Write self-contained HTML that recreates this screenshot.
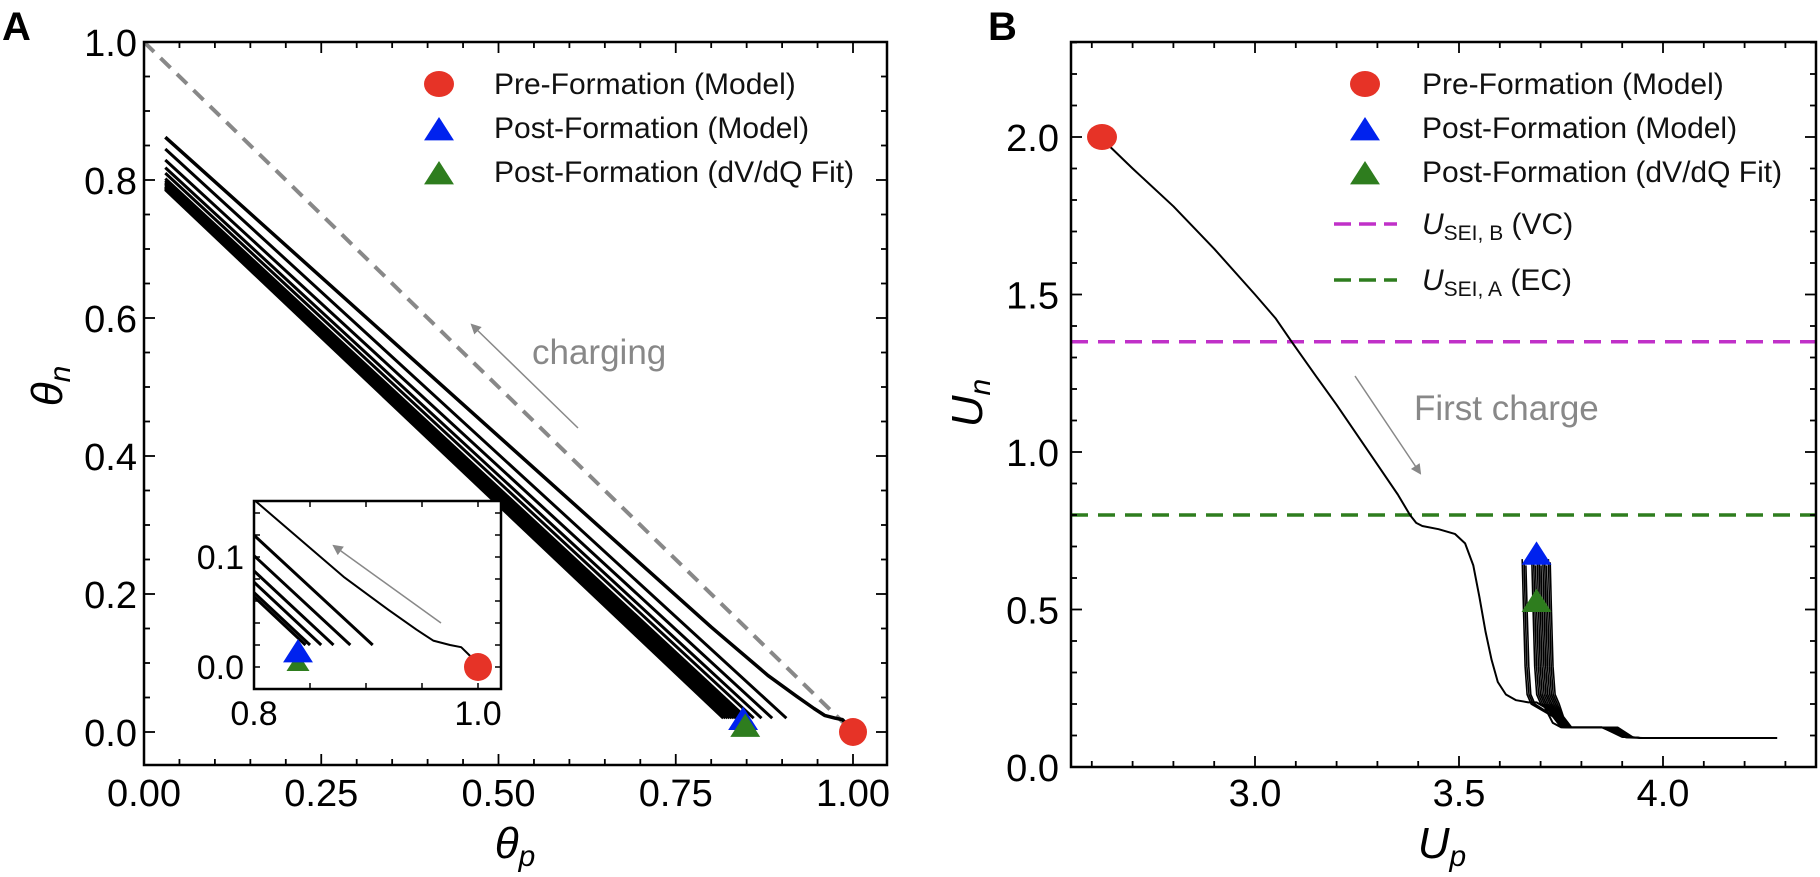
<!DOCTYPE html>
<html><head><meta charset="utf-8"><style>
html,body{margin:0;padding:0;background:#fff;}
svg{display:block;font-family:"Liberation Sans",sans-serif;}
</style></head><body>
<svg id="s" width="1820" height="877" xmlns="http://www.w3.org/2000/svg"></svg>
<script>
const S=document.getElementById('s');let h='';
const AX=x=>144+x*709, AY=y=>732-y*690;
const IX=x=>254+(x-0.8)*1120, IY=y=>667-y*1100;
const BX=x=>1255+(x-3)*408, BY=y=>767-y*315;
function pl(pts,fx,fy,st){return '<polyline fill="none" stroke-linejoin="round" '+st+' points="'+pts.map(p=>fx(p[0]).toFixed(1)+','+fy(p[1]).toFixed(1)).join(' ')+'"/>';}
function tri(x,y,s,c){return `<polygon points="${x},${y-s} ${x-s*1.15},${y+s*0.8} ${x+s*1.15},${y+s*0.8}" fill="${c}"/>`;}
h+='<defs><clipPath id="ca"><rect x="144" y="42" width="743" height="723"/></clipPath><clipPath id="ci"><rect x="254" y="501" width="247" height="188"/></clipPath><clipPath id="cb"><rect x="1071" y="42" width="745" height="725"/></clipPath>';
h+='<marker id="ar" viewBox="0 0 10 10" refX="8" refY="5" markerWidth="7" markerHeight="7" orient="auto-start-reverse"><path d="M0,0 L10,5 L0,10 z" fill="#888"/></marker></defs>';
// ---- Panel A ----
h+='<g clip-path="url(#ca)">';
h+=`<line x1="${AX(0)}" y1="${AY(1)}" x2="${AX(1)}" y2="${AY(0)}" stroke="#888" stroke-width="4" stroke-dasharray="14,9"/>`;
const ends=[0.906,0.886,0.871,0.860,0.850,0.846,0.842,0.838,0.835,0.832,0.829,0.826,0.823,0.82,0.817];
const starts=[0.845,0.829,0.818,0.810,0.802,0.799,0.797,0.795,0.793,0.791,0.790,0.789,0.788,0.787,0.786];
ends.forEach((e,i)=>{h+=pl([[0.03,starts[i]],[e,0.02]],AX,AY,'stroke="#000" stroke-width="3"');});
const c1=[[0.03,0.862],[0.8,0.152],[0.88,0.082],[0.92,0.052],[0.945,0.034],[0.96,0.024],[0.975,0.02],[0.985,0.018],[0.993,0.01],[1.0,0.0]];
h+=pl(c1,AX,AY,'stroke="#000" stroke-width="3.5"');
h+='</g>';
h+=`<circle cx="${AX(1)}" cy="${AY(0)}" r="14" fill="#e63327"/>`;
h+=tri(AX(0.845),AY(0.018),13,'#0022ee');
h+=tri(AX(0.848),AY(0.008),13,'#2e7d1e');
h+=`<line x1="578" y1="428" x2="472" y2="325" stroke="#888" stroke-width="1.5" marker-end="url(#ar)"/>`;
h+='<text x="532" y="364" font-size="35" fill="#888">charging</text>';
h+='<ellipse cx="439" cy="84" rx="15" ry="13" fill="#e63327"/>';
h+=tri(439,130,13,'#0022ee');h+=tri(439,174,13,'#2e7d1e');
h+='<g font-size="30" fill="#111"><text x="494" y="94">Pre-Formation (Model)</text><text x="494" y="138">Post-Formation (Model)</text><text x="494" y="182">Post-Formation (dV/dQ Fit)</text></g>';
// inset
h+='<rect x="254" y="501" width="247" height="188" fill="#fff"/>';
h+='<g clip-path="url(#ci)">';
ends.slice(0,6).forEach((e,i)=>{h+=pl([[0.03,starts[i]],[e,0.02]],IX,IY,'stroke="#000" stroke-width="3"');});
h+=pl(c1,IX,IY,'stroke="#000" stroke-width="2"');
h+='</g>';
h+=`<line x1="441" y1="623" x2="334" y2="546" stroke="#888" stroke-width="1.5" marker-end="url(#ar)"/>`;
h+=`<circle cx="${IX(1)}" cy="${IY(0)}" r="14" fill="#e63327"/>`;
h+=tri(298,663,10,'#2e7d1e');
h+=tri(298,652,13,'#0022ee');
h+='<rect x="254" y="501" width="247" height="188" fill="none" stroke="#000" stroke-width="2.5"/>';
for(let i=0;i<=4;i++){const px=IX(0.8+i*0.05);h+=`<line x1="${px}" y1="689" x2="${px}" y2="683" stroke="#000" stroke-width="1.5"/><line x1="${px}" y1="501" x2="${px}" y2="507" stroke="#000" stroke-width="1.5"/>`;}
for(let i=-1;i<=7;i++){const py=IY(i*0.02);if(py<503||py>687)continue;h+=`<line x1="254" y1="${py}" x2="260" y2="${py}" stroke="#000" stroke-width="1.5"/><line x1="501" y1="${py}" x2="495" y2="${py}" stroke="#000" stroke-width="1.5"/>`;}
h+='<g font-size="34" fill="#000"><text x="244" y="569" text-anchor="end">0.1</text><text x="244" y="679" text-anchor="end">0.0</text><text x="254" y="725" text-anchor="middle">0.8</text><text x="478" y="725" text-anchor="middle">1.0</text></g>';
// frame A
h+='<rect x="144" y="42" width="743" height="723" fill="none" stroke="#000" stroke-width="2.5"/>';
for(let i=0;i<=20;i++){const x=i*0.05,px=AX(x),L=i%5==0?11:6;h+=`<line x1="${px}" y1="765" x2="${px}" y2="${765-L}" stroke="#000" stroke-width="1.8"/><line x1="${px}" y1="42" x2="${px}" y2="${42+L}" stroke="#000" stroke-width="1.8"/>`;}
for(let i=-1;i<=20;i++){const y=i*0.05,py=AY(y),L=i%4==0?11:6;if(py<42||py>765)continue;h+=`<line x1="144" y1="${py}" x2="${144+L}" y2="${py}" stroke="#000" stroke-width="1.8"/><line x1="887" y1="${py}" x2="${887-L}" y2="${py}" stroke="#000" stroke-width="1.8"/>`;}
h+='<g font-size="38" fill="#000">';
['0.0','0.2','0.4','0.6','0.8','1.0'].forEach((t,i)=>{h+=`<text x="137" y="${AY(i*0.2)+14}" text-anchor="end">${t}</text>`;});
['0.00','0.25','0.50','0.75','1.00'].forEach((t,i)=>{h+=`<text x="${AX(i*0.25)}" y="806" text-anchor="middle">${t}</text>`;});
h+='</g>';
h+='<text x="515" y="858" font-size="44" font-style="italic" text-anchor="middle">θ<tspan font-size="30" dy="8">p</tspan></text>';
h+='<text transform="translate(62,386) rotate(-90)" font-size="44" font-style="italic" text-anchor="middle">θ<tspan font-size="30" dy="8">n</tspan></text>';
h+='<text x="2" y="40" font-size="40" font-weight="bold">A</text>';
// ---- Panel B ----
h+='<g clip-path="url(#cb)">';
h+=`<line x1="1071" y1="${BY(1.35)}" x2="1816" y2="${BY(1.35)}" stroke="#c030c8" stroke-width="3.5" stroke-dasharray="17,10"/>`;
h+=`<line x1="1071" y1="${BY(0.8)}" x2="1816" y2="${BY(0.8)}" stroke="#2e7d1e" stroke-width="3.5" stroke-dasharray="17,10"/>`;
const cb=[[2.62,2.0],[2.7,1.9],[2.8,1.78],[2.9,1.645],[3.0,1.5],[3.05,1.425],[3.09,1.35],[3.15,1.24],[3.2,1.15],[3.25,1.055],[3.3,0.96],[3.35,0.865],[3.38,0.8],[3.395,0.775],[3.41,0.765],[3.45,0.755],[3.49,0.74],[3.515,0.71],[3.535,0.64],[3.55,0.54],[3.565,0.43],[3.58,0.34],[3.595,0.27],[3.615,0.23],[3.64,0.212],[3.67,0.205],[3.69,0.205],[3.71,0.19],[3.73,0.14],[3.75,0.126],[3.85,0.126],[3.88,0.11],[3.91,0.094],[3.95,0.092],[4.28,0.092]];
h+=pl(cb,BX,BY,'stroke="#000" stroke-width="2"');
for(let k=0;k<14;k++){const x0=3.655+k*0.0045+(k>2?0.01:0);const pts=[[x0,0.66-(k%3)*0.01],[x0+0.003,0.5],[x0+0.007,0.32],[x0+0.012,0.23],[x0+0.022,0.2],[3.73+k*0.002,0.16],[3.75+k*0.002,0.126],[3.85+k*0.003,0.126],[3.9+k*0.002,0.095],[3.95,0.092],[4.0,0.092]];h+=pl(pts,BX,BY,'stroke="#000" stroke-width="1.6"');}
h+='</g>';
h+=`<ellipse cx="${BX(2.625)}" cy="${BY(2.0)}" rx="15" ry="13" fill="#e63327"/>`;
h+=tri(BX(3.69),BY(0.675),13,'#0022ee');
h+=tri(BX(3.69),BY(0.525),13,'#2e7d1e');
h+=`<line x1="1355" y1="376" x2="1420" y2="473" stroke="#888" stroke-width="1.5" marker-end="url(#ar)"/>`;
h+='<text x="1414" y="420" font-size="35" fill="#888">First charge</text>';
h+='<ellipse cx="1365" cy="84" rx="15" ry="13" fill="#e63327"/>';
h+=tri(1365,130,13,'#0022ee');h+=tri(1365,174,13,'#2e7d1e');
h+='<line x1="1334" y1="224" x2="1397" y2="224" stroke="#c030c8" stroke-width="3.5" stroke-dasharray="17,8"/>';
h+='<line x1="1334" y1="280" x2="1397" y2="280" stroke="#2e7d1e" stroke-width="3.5" stroke-dasharray="17,8"/>';
h+='<g font-size="30" fill="#111"><text x="1422" y="94">Pre-Formation (Model)</text><text x="1422" y="138">Post-Formation (Model)</text><text x="1422" y="182">Post-Formation (dV/dQ Fit)</text>';
h+='<text x="1422" y="234"><tspan font-style="italic">U</tspan><tspan font-size="21" dy="6">SEI, B</tspan><tspan dy="-6"> (VC)</tspan></text>';
h+='<text x="1422" y="290"><tspan font-style="italic">U</tspan><tspan font-size="21" dy="6">SEI, A</tspan><tspan dy="-6"> (EC)</tspan></text></g>';
h+='<rect x="1071" y="42" width="745" height="725" fill="none" stroke="#000" stroke-width="2.5"/>';
for(let i=26;i<=44;i++){const x=i*0.1,px=BX(x),L=i%5==0?11:6;if(px<1071||px>1816)continue;h+=`<line x1="${px}" y1="767" x2="${px}" y2="${767-L}" stroke="#000" stroke-width="1.8"/><line x1="${px}" y1="42" x2="${px}" y2="${42+L}" stroke="#000" stroke-width="1.8"/>`;}
for(let i=0;i<=23;i++){const y=i*0.1,py=BY(y),L=i%5==0?11:6;if(py<42)continue;h+=`<line x1="1071" y1="${py}" x2="${1071+L}" y2="${py}" stroke="#000" stroke-width="1.8"/><line x1="1816" y1="${py}" x2="${1816-L}" y2="${py}" stroke="#000" stroke-width="1.8"/>`;}
h+='<g font-size="38" fill="#000">';
['0.0','0.5','1.0','1.5','2.0'].forEach((t,i)=>{h+=`<text x="1059" y="${BY(i*0.5)+14}" text-anchor="end">${t}</text>`;});
['3.0','3.5','4.0'].forEach((t,i)=>{h+=`<text x="${BX(3+i*0.5)}" y="806" text-anchor="middle">${t}</text>`;});
h+='</g>';
h+='<text x="1442" y="858" font-size="44" font-style="italic" text-anchor="middle">U<tspan font-size="30" dy="8">p</tspan></text>';
h+='<text transform="translate(982,403) rotate(-90)" font-size="44" font-style="italic" text-anchor="middle">U<tspan font-size="30" dy="8">n</tspan></text>';
h+='<text x="988" y="40" font-size="40" font-weight="bold">B</text>';
S.innerHTML=h;
</script>
</body></html>
